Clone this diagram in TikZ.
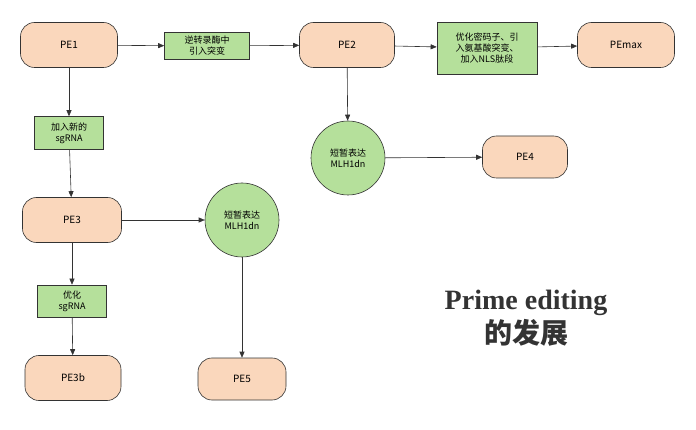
\documentclass[tikz,border=0pt]{standalone}
\usepackage{fontspec}
\setmainfont{Noto Sans CJK SC}
\newfontfamily\titlefont{Liberation Serif}
\newfontfamily\titlecjk{Noto Sans CJK SC}
\usetikzlibrary{arrows.meta}
\definecolor{peach}{HTML}{FAD7BC}
\definecolor{leaf}{HTML}{B5E09B}
\definecolor{edge}{HTML}{333333}
\tikzset{
 x=1pt,y=-1pt,
 pe/.style={draw=edge,fill=peach,rounded corners=14pt,minimum width=97pt,minimum height=45pt,font=\fontsize{10}{12}\selectfont,line width=0.6pt},
 gbox/.style={draw=edge,fill=leaf,align=center,font=\fontsize{9}{11}\selectfont,inner sep=3pt,line width=0.6pt},
 gcirc/.style={draw=edge,fill=leaf,circle,minimum size=74pt,inner sep=0pt,align=center,font=\fontsize{9}{11}\selectfont,line width=0.6pt},
 arr/.style={-{Triangle[length=6pt,width=5pt]},draw=edge,line width=0.6pt}
}
\begin{document}
\begin{tikzpicture}
\useasboundingbox[fill=white] (0,0) rectangle (696,430);
\node[pe] (pe1) at (69,45) {PE1};
\node[gbox,minimum width=85pt,minimum height=27pt] (g1) at (207,46) {逆转录酶中\\引入突变};
\node[pe,minimum width=95pt] (pe2) at (347,45) {PE2};
\node[gbox,minimum width=100pt,minimum height=52pt] (g2) at (487,48) {优化密码子、引\\入氨基酸突变、\\加入NLS肽段};
\node[pe] (pemax) at (626,45) {PEmax};
\node[gcirc] (c1) at (348,158) {短暂表达\\MLH1dn};
\node[pe,minimum width=85pt,minimum height=42pt] (pe4) at (525,157) {PE4};
\node[gbox,minimum width=69pt,minimum height=33pt] (g3) at (69,133) {加入新的\\sgRNA};
\node[pe,minimum width=99pt] (pe3) at (72,220) {PE3};
\node[gcirc] (c2) at (242,220) {短暂表达\\MLH1dn};
\node[gbox,minimum width=69pt,minimum height=32pt] (g4) at (72,301) {优化\\sgRNA};
\node[pe,minimum width=96pt] (pe3b) at (73,378) {PE3b};
\node[pe,minimum width=88pt,minimum height=42pt] (pe5) at (242,379) {PE5};
\node[align=center,font=\fontsize{28}{34}\selectfont\bfseries,text=edge] (title) at (526,318) {{\titlefont Prime editing}\\{\titlecjk 的发展}};
\draw[arr] (pe1) -- (g1);
\draw[arr] (g1) -- (pe2);
\draw[arr] (pe2) -- (g2);
\draw[arr] (g2) -- (pemax);
\draw[arr] (pe2) -- (c1);
\draw[arr] (c1) -- (pe4);
\draw[arr] (pe1) -- (g3);
\draw[arr] (g3) -- (pe3);
\draw[arr] (pe3) -- (c2);
\draw[arr] (pe3) -- (g4);
\draw[arr] (g4) -- (pe3b);
\draw[arr] (c2) -- (pe5);
\end{tikzpicture}
\end{document}
